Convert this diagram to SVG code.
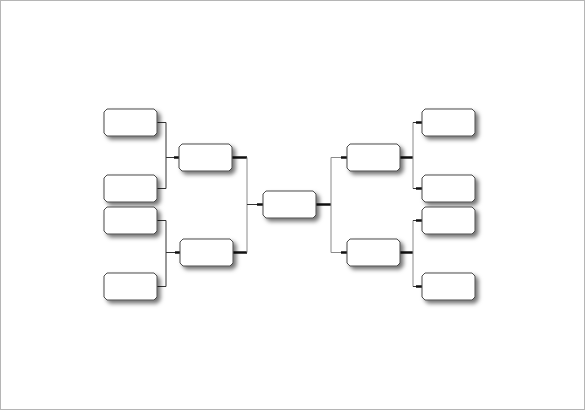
<svg xmlns="http://www.w3.org/2000/svg" xmlns:xlink="http://www.w3.org/1999/xlink" width="585" height="410" viewBox="0 0 585 410">
<style>
.box{fill:#fff;stroke:#4a4a4a;stroke-width:1;filter:url(#sh)}
.thin{fill:none;stroke:#333;stroke-width:1}
.gray{fill:none;stroke:#8a8a8a;stroke-width:1}
.thick{fill:none;stroke:#111;stroke-width:2.5}
</style>
<defs>
<filter id="sh" x="-20%" y="-30%" width="150%" height="180%">
<feGaussianBlur in="SourceAlpha" stdDeviation="2"/>
<feOffset dx="3" dy="3" result="b"/>
<feFlood flood-color="#000" flood-opacity="0.55"/>
<feComposite in2="b" operator="in" result="s"/>
<feMerge><feMergeNode in="s"/><feMergeNode in="SourceGraphic"/></feMerge>
</filter>
<path id="bx" d="M3,0 H50 L53,3 V24 L50,27 H3 L0,24 V3 Z"/>
</defs>
<rect x="0.5" y="0.5" width="584" height="409" fill="#fff" stroke="#b5b5b5" stroke-width="1"/>
<g id="connectors">
<path class="thin" d="M157,122.5 H166 V188.5 H157"/>
<path class="thin" d="M157,220.5 H166 V286.5 H157"/>
<path class="thin" d="M166,157.5 H179 M166,252.5 H180"/>
<path class="thick" d="M174,157.5 H179 M175,252.5 H180"/>
<path class="thick" d="M232,157.5 H247 M232,252.5 H247"/>
<path class="gray" d="M247,157.5 V252.5"/>
<path class="thin" d="M247,204.5 H263"/>
<path class="thick" d="M257,204.5 H263"/>
<path class="thick" d="M316,204.5 H331"/>
<path class="gray" d="M331,157.5 V252.5 M331,157.5 H347 M331,252.5 H347"/>
<path class="thick" d="M341,157.5 H347 M341,252.5 H347"/>
<path class="thick" d="M400,157.5 H413 M400,252.5 H413"/>
<path class="gray" d="M413,122.5 V188.5 M413,220.5 V286.5"/>
<path class="thin" d="M413,122.5 H422 M413,188.5 H422 M413,220.5 H422 M413,286.5 H422"/>
<path class="thick" d="M416,122.5 H422 M416,188.5 H422 M416,220.5 H422 M416,286.5 H422"/>
</g>
<g id="l1a"><use href="#bx" class="box" x="104" y="109"/></g>
<g id="l1b"><use href="#bx" class="box" x="104" y="175"/></g>
<g id="l1c"><use href="#bx" class="box" x="104" y="207"/></g>
<g id="l1d"><use href="#bx" class="box" x="104" y="273"/></g>
<g id="l2a"><use href="#bx" class="box" x="179" y="144"/></g>
<g id="l2b"><use href="#bx" class="box" x="180" y="239"/></g>
<g id="center"><use href="#bx" class="box" x="263" y="191"/></g>
<g id="r2a"><use href="#bx" class="box" x="347" y="144"/></g>
<g id="r2b"><use href="#bx" class="box" x="347" y="239"/></g>
<g id="r1a"><use href="#bx" class="box" x="422" y="109"/></g>
<g id="r1b"><use href="#bx" class="box" x="422" y="175"/></g>
<g id="r1c"><use href="#bx" class="box" x="422" y="207"/></g>
<g id="r1d"><use href="#bx" class="box" x="422" y="273"/></g>
</svg>
